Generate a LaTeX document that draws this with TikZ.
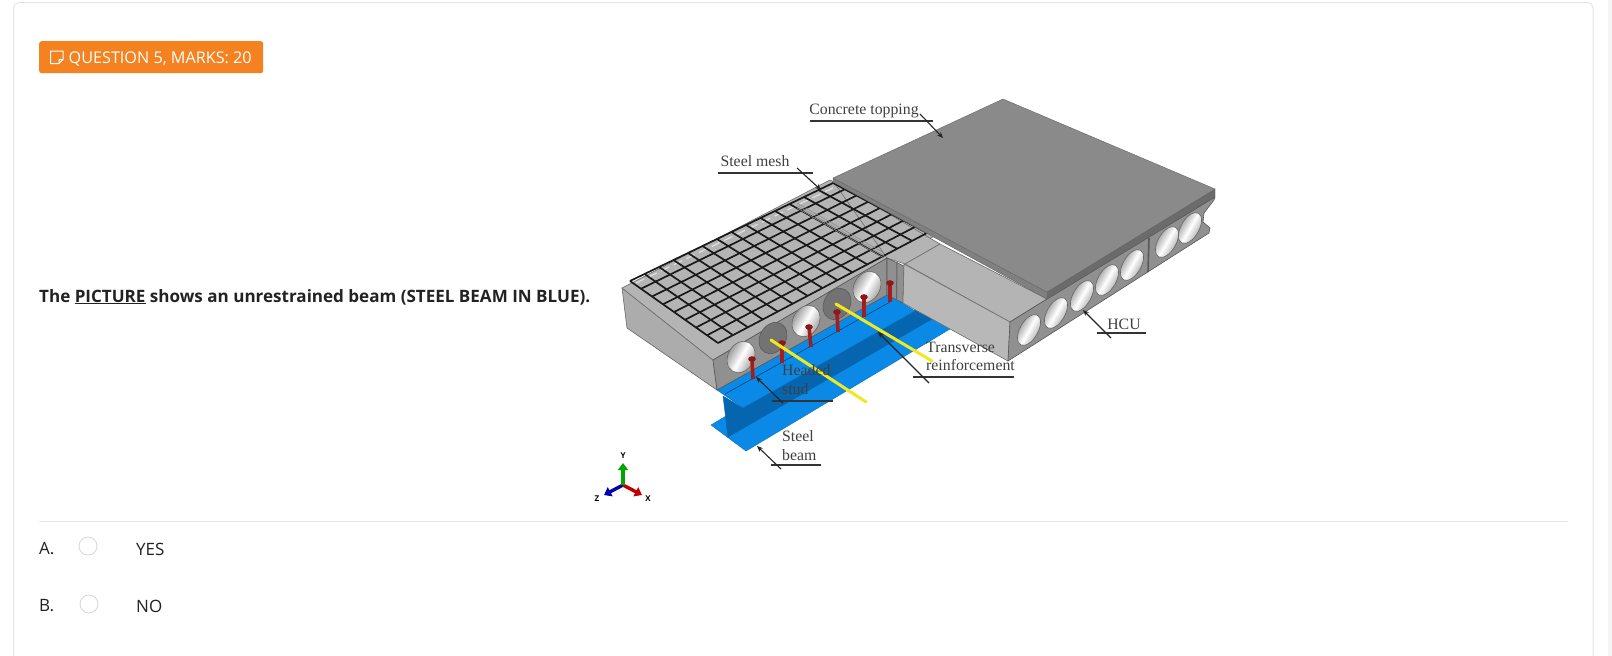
\documentclass[tikz,border=0pt]{standalone}
\usepackage{fontspec}
\setmainfont{Open Sans}
\newfontfamily\labelfont{Liberation Serif}
\usetikzlibrary{calc,arrows.meta}
\definecolor{rule}{HTML}{E6E6E6}
\definecolor{badge}{HTML}{F58220}
\definecolor{ink}{HTML}{222222}
\definecolor{flange}{HTML}{0A8AE6}
\definecolor{webblue}{HTML}{0565AE}
\definecolor{topface}{HTML}{B4B4B4}
\definecolor{frontface}{HTML}{909090}
\definecolor{sideface}{HTML}{ACACAC}
\definecolor{toppingc}{HTML}{8A8A8A}
\definecolor{studred}{HTML}{A51C1C}
\definecolor{barc}{HTML}{F2E81E}
\tikzset{
  x=1pt,y=-1pt,
  uitext/.style={font=\fontsize{17}{20}\selectfont,text=ink,inner sep=0pt,anchor=west},
  radio/.style={draw=#1,fill=white,line width=0.8pt},
  solid3d/.style={draw=#1!60!black,line width=0.6pt,line join=round,fill=#1},
  meshline/.style={draw=black!90,line width=1.7pt},
  tag/.style={font=\labelfont\fontsize{15.8}{18}\selectfont,text=black!75,inner sep=0pt},
  tagline/.style={draw=black!80,line width=1.2pt},
  leader/.style={draw=black!85,line width=1.1pt,-{Stealth[length=6pt,width=5pt]}},
  lightcore/.style={draw=black!60,line width=0.6pt,left color=black!45,right color=black!40,middle color=white,shading angle=#1},
  lightcore/.default=60,
  darkcore/.style={draw=black!65,line width=0.6pt,fill=black!55},
  axisarrow/.style={line width=3.4pt,-{Triangle[length=7pt,width=10pt]}},
  axistext/.style={font=\bfseries\fontsize{8}{9}\selectfont,inner sep=0pt},
  barline/.style={draw=barc,line width=3pt,line cap=round},
}
\newcommand{\studpin}[4]{%
  \draw[draw=studred,line width=3.6pt] (#1,#2) -- (#3,#4);
  \fill[studred!85!black] (#1,#2) ellipse [x radius=3.8pt,y radius=2.8pt];}
\begin{document}
\begin{tikzpicture}
\useasboundingbox (0,0) rectangle (1612,656);
\fill[white] (0,0) rectangle (1612,656);
\fill[black!4] (1608,0) rectangle (1612,656);
% card
\draw[rule,line width=1pt] (13.5,656) -- (13.5,8) arc[start angle=180,end angle=90,radius=5.5pt] -- (1587.5,2.5) arc[start angle=90,end angle=0,radius=5.5pt] -- (1593,656);
% badge
\node[fill=badge,rounded corners=2.5pt,minimum width=224pt,minimum height=32pt,inner sep=0pt,anchor=north west] (badgebox) at (39,41) {};
\node[font=\fontsize{16.2}{20}\selectfont,text=white,inner sep=0pt,anchor=west] (badgetext) at (68.5,59) {QUESTION 5, MARKS: 20};
\draw[white,line width=1pt,line join=round] (59,63.5) -- (50.5,63.5) -- (50.5,51) -- (63,51) -- (63,59.5) -- cycle (59,63.5) -- (59,59.5) -- (63,59.5);
% question
\node[uitext,font=\bfseries\fontsize{17.05}{20}\selectfont] (question) at (39,297) {The \underline{PICTURE} shows an unrestrained beam (STEEL BEAM IN BLUE).};
% beam
\filldraw[fill=flange,draw=flange!80!black,line width=0.4pt] (711,425) -- (746,451) -- (950,329) -- (925,314) -- (726,416) -- cycle;
\filldraw[fill=webblue,draw=webblue] (723,396) -- (728,437) -- (932,319) -- (915,310) -- (743,408) -- cycle;
\filldraw[fill=flange,draw=flange!80!black,line width=0.4pt] (717,390) -- (743,408) -- (915,311) -- (893,297) -- (887,294) -- cycle;
\draw[webblue!70!black,line width=0.6pt] (725,394) -- (890,302);
% left slab
\filldraw[solid3d=sideface] (622,288) -- (713,360) -- (717,390) -- (627,328) -- cycle;
\filldraw[solid3d=topface] (622,288) -- (830,180) -- (935,236) -- (887,258) -- (713,360) -- cycle;
\filldraw[solid3d=frontface] (713,360) -- (887,258) -- (887,295) -- (717,390) -- cycle;
% strip below topping, column
\filldraw[solid3d=topface] (833,181) -- (940,244) -- (905,264) -- (887,258) -- cycle;
\filldraw[solid3d=frontface] (887,258) -- (904,266) -- (903,303) -- (887,295) -- cycle;
\draw[black!60,line width=1pt] (897,262) -- (896.5,299);
% left slab cores
\path[lightcore] (741,357) ellipse [x radius=13pt,y radius=16.5pt,rotate=-30];
\path[darkcore] (773,338) ellipse [x radius=13pt,y radius=16.5pt,rotate=-30];
\path[lightcore] (806,321) ellipse [x radius=13pt,y radius=16.5pt,rotate=-30];
\path[darkcore] (837,304) ellipse [x radius=13pt,y radius=16.5pt,rotate=-30];
\path[lightcore] (867,287) ellipse [x radius=13pt,y radius=16.5pt,rotate=-30];
% mesh
\coordinate (meshA) at (630,281);
\coordinate (meshB) at (833,183);
\coordinate (meshC) at (927,233);
\coordinate (meshD) at (718,343);
\draw[white!88!black,line width=1.2pt,dash pattern=on 9pt off 5pt] ($(meshA)+(6,2)$) -- ($(meshB)+(6,2)$);
\foreach \k in {0,...,14} {\draw[meshline] ($(meshA)!{\k/14}!(meshB)$) -- ($(meshD)!{\k/14}!(meshC)$);}
\foreach \k in {0,...,8} {\draw[meshline] ($(meshA)!{\k/8}!(meshD)$) -- ($(meshB)!{\k/8}!(meshC)$);}
\foreach \k in {0,0.5,1} {\draw[black!45,line width=0.6pt] ($(797,203)+(0,\k*5)$) -- ($(888,253)+(-4,\k*5)$);}
% right slab
\filldraw[solid3d=topface] (905,264) -- (940,244) -- (1047,299) -- (1010,322) -- cycle;
\filldraw[solid3d=sideface!85!white] (904,264) -- (1010,322) -- (1008,361) -- (903,303) -- cycle;
\filldraw[solid3d=frontface] (1010,322) -- (1047,299) -- (1215,197) -- (1214,200) -- (1204,213) -- (1203,222) -- (1210,228) -- (1209,233) -- (1008,361) -- cycle;
\draw[black!65,line width=1.6pt] (1149,238) -- (1148,272);
\foreach \cx/\cy in {1029/330,1056/313,1082/296,1107/280,1132/265,1167/242,1190/228}
  {\path[lightcore=60] (\cx,\cy) ellipse [x radius=9pt,y radius=17pt,rotate=-30];}
% topping
\filldraw[fill=black!58,draw=black!65,line width=0.4pt] (1047,292) -- (1215,189) -- (1215,197) -- (1047,299) -- cycle;
\filldraw[fill=black!50,draw=black!60,line width=0.4pt] (833,178) -- (1047,292) -- (1047,299) -- (833,182) -- cycle;
\filldraw[fill=toppingc,draw=black!60,line width=0.4pt] (833,178) -- (1003,99) -- (1215,189) -- (1047,292) -- cycle;
% studs
\studpin{752}{359}{753}{379}
\studpin{782}{343}{782}{363}
\studpin{809}{327}{811}{347}
\studpin{837}{312}{838}{332}
\studpin{864}{297}{864}{317}
\studpin{890}{283}{890}{302}
% bars
\draw[barline] (771,340) -- (866,402);
\draw[barline] (836,304) -- (932,361);
% labels
\node[tag,anchor=center] (ltop) at (864,110.5) {Concrete topping};
\coordinate (ltopL) at (810,121); \coordinate (ltopR) at (933,121);
\draw[tagline] (ltopL) -- (ltopR);
\coordinate (ltopA) at (920,114); \coordinate (ltopB) at (943,138);
\draw[leader] (ltopA) -- (ltopB);
\node[tag] (lmesh) at (755,161.5) {Steel mesh};
\coordinate (lmeshL) at (718,173); \coordinate (lmeshR) at (813,173);
\draw[tagline] (lmeshL) -- (lmeshR);
\coordinate (lmeshA) at (797,168); \coordinate (lmeshB) at (821,190);
\draw[leader] (lmeshA) -- (lmeshB);
\node[tag,anchor=west] (lhead) at (782,370) {Headed};
\node[tag,anchor=west] (lstud) at (782,389) {stud};
\coordinate (lstudL) at (772,401); \coordinate (lstudR) at (833,401);
\draw[tagline] (lstudL) -- (lstudR);
\coordinate (lstudA) at (783,403); \coordinate (lstudB) at (756,377);
\draw[leader] (lstudA) -- (lstudB);
\node[tag,anchor=west] (lsteel) at (782,436) {Steel};
\node[tag,anchor=west] (lbeam) at (782,455) {beam};
\coordinate (lbeamL) at (771,465); \coordinate (lbeamR) at (821,465);
\draw[tagline] (lbeamL) -- (lbeamR);
\coordinate (lbeamA) at (781,469); \coordinate (lbeamB) at (757,446);
\draw[leader] (lbeamA) -- (lbeamB);
\node[tag,anchor=west] (ltrans) at (926,347) {Transverse};
\node[tag,anchor=west] (lreinf) at (926,365) {reinforcement};
\coordinate (lreinfL) at (913,377); \coordinate (lreinfR) at (1014,377);
\draw[tagline] (lreinfL) -- (lreinfR);
\coordinate (lreinfA) at (929,383); \coordinate (lreinfB) at (878,332);
\draw[leader] (lreinfA) -- (lreinfB);
\node[tag] (lhcu) at (1124,324) {HCU};
\coordinate (lhcuL) at (1097,333); \coordinate (lhcuR) at (1146,333);
\draw[tagline] (lhcuL) -- (lhcuR);
\coordinate (lhcuA) at (1111,338); \coordinate (lhcuB) at (1083,310);
\draw[leader] (lhcuA) -- (lhcuB);
% triad
\coordinate (triad) at (623,485);
\coordinate (triadY) at (623,463);
\coordinate (triadZ) at (604,495);
\coordinate (triadX) at (642,495);
\draw[axisarrow,draw=blue!70!black] (triad) -- (triadZ);
\draw[axisarrow,draw=red!75!black] (triad) -- (triadX);
\draw[axisarrow,draw=green!65!black] (triad) -- (triadY);
\node[axistext] (axY) at (623,456) {Y};
\node[axistext] (axX) at (648,499) {X};
\node[axistext] (axZ) at (597,499) {Z};
% answers
\draw[rule,line width=1pt] (39,521) -- (1568,521);
\node[uitext] (optA) at (39,549) {A.};
\node[radio=black!16,circle,minimum size=18pt,inner sep=0pt] (radA) at (88,546) {};
\node[uitext] (yes) at (136,549) {YES};
\node[uitext] (optB) at (39,606) {B.};
\node[radio=black!16,circle,minimum size=18pt,inner sep=0pt] (radB) at (89,604) {};
\node[uitext] (no) at (136,606) {NO};
\end{tikzpicture}
\end{document}
